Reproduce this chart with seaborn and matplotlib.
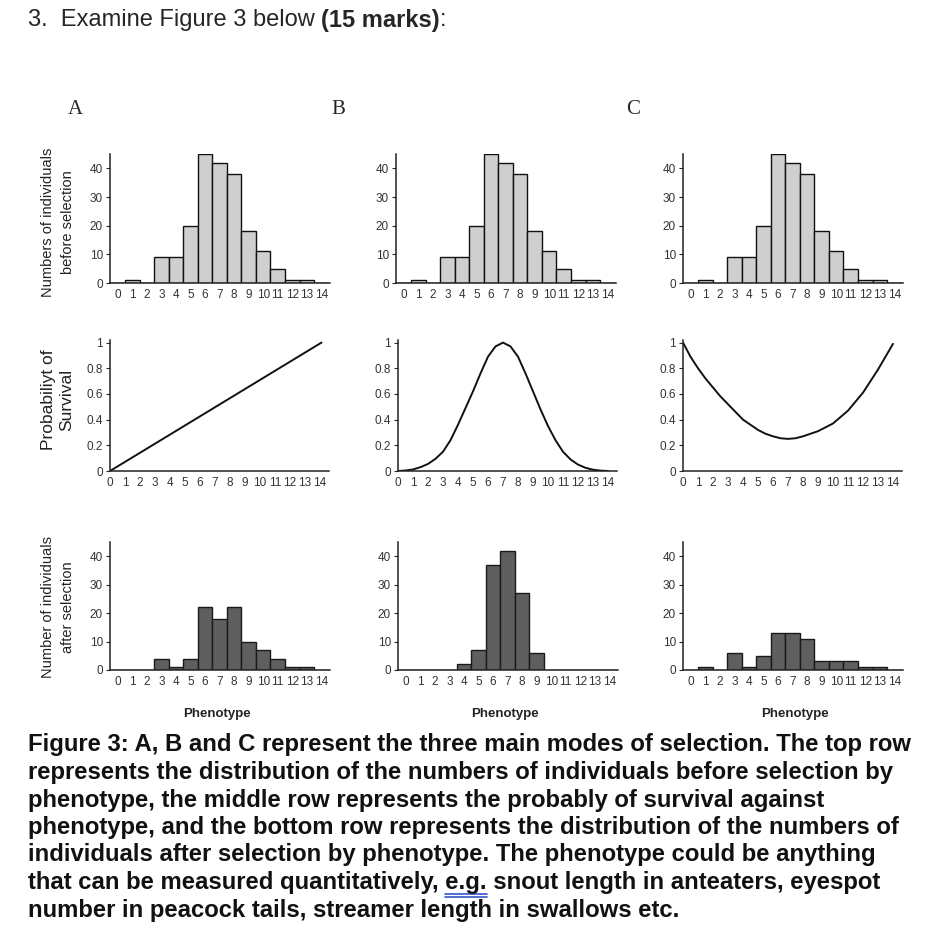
import numpy as np
import pandas as pd
import matplotlib
matplotlib.use("Agg")
import matplotlib.pyplot as plt
import seaborn as sns

# phenotype classes and counts
phenotype = list(range(15))
before = [0, 1, 0, 9, 9, 20, 45, 42, 38, 18, 11, 5, 1, 1, 0]
after_a = [0, 0, 0, 4, 1, 4, 22, 18, 22, 10, 7, 4, 1, 1, 0]
after_b = [0, 0, 0, 0, 2, 7, 37, 42, 27, 6, 0, 0, 0, 0, 0]
after_c = [0, 1, 0, 6, 1, 5, 13, 13, 11, 3, 3, 3, 1, 1, 0]

# survival curves, read at half-unit steps
curve_x = [0, 0.5, 1, 1.5, 2, 2.5, 3, 3.5, 4, 4.5, 5, 5.5, 6, 6.5, 7,
           7.5, 8, 8.5, 9, 9.5, 10, 10.5, 11, 11.5, 12, 12.5, 13, 13.5, 14]
surv_a_x = [0, 14.1]
surv_a = [0, 1.0]
surv_b = [0.0, 0.004, 0.012, 0.03, 0.055, 0.095, 0.15, 0.24, 0.36, 0.49, 0.62,
          0.76, 0.89, 0.97, 1.00, 0.97, 0.89, 0.76, 0.62, 0.48, 0.35, 0.24,
          0.15, 0.09, 0.05, 0.025, 0.01, 0.003, 0.0]
surv_c = [1.0, 0.89, 0.80, 0.72, 0.65, 0.58, 0.52, 0.46, 0.40, 0.36, 0.32,
          0.29, 0.27, 0.255, 0.25, 0.255, 0.27, 0.29, 0.31, 0.34, 0.37, 0.42,
          0.47, 0.54, 0.61, 0.70, 0.79, 0.89, 0.99]

col_letters = ["A", "B", "C"]
row_labels = ["Numbers of individuals\nbefore selection",
              "Probabiliyt of\nSurvival",
              "Number of individuals\nafter selection"]
caption = [
    "Figure 3: A, B and C represent the three main modes of selection. The top row",
    "represents the distribution of the numbers of individuals before selection by",
    "phenotype, the middle row represents the probably of survival against",
    "phenotype, and the bottom row represents the distribution of the numbers of",
    "individuals after selection by phenotype. The phenotype could be anything",
    "that can be measured quantitatively, e.g. snout length in anteaters, eyespot",
    "number in peacock tails, streamer length in swallows etc.",
]

sns.set_style("white")
plt.rcParams["font.family"] = ["Liberation Sans", "DejaVu Sans"]

W, H = 948, 940
fig = plt.figure(figsize=(W / 100, H / 100), dpi=100)


def px_axes(left, bottom, width, height):
    return fig.add_axes([left / W, (H - bottom) / H, width / W, height / H])


def style(ax):
    sns.despine(ax=ax)
    for s in ["left", "bottom"]:
        ax.spines[s].set_linewidth(1.1)
        ax.spines[s].set_color("#222222")
    ax.tick_params(axis="y", length=3, width=0.8, direction="out",
                   labelsize=8.5, labelcolor="#333333", pad=2, left=True)
    ax.tick_params(axis="x", length=0, labelsize=8.5, labelcolor="#333333", pad=4)
    ax.set_xlabel("")
    ax.set_ylabel("")


def hist(ax, counts, color, edge):
    df = pd.DataFrame({"phenotype": phenotype, "n": counts})
    sns.barplot(data=df, x="phenotype", y="n", native_scale=True, width=1,
                color=color, saturation=1, edgecolor=edge, linewidth=1.0,
                errorbar=None, ax=ax)
    ax.set_xlim(-0.55, 14.6)
    ax.set_ylim(0, 45)
    ax.set_xticks(phenotype)
    ax.set_yticks([0, 10, 20, 30, 40])
    style(ax)


def curve(ax, xs, ys):
    sns.lineplot(x=xs, y=ys, color="#111111", linewidth=1.4, ax=ax)
    ax.set_xlim(0, 14.6)
    ax.set_ylim(0, 1.02)
    ax.set_xticks(phenotype)
    ax.set_yticks([0, 0.2, 0.4, 0.6, 0.8, 1])
    ax.set_yticklabels(["0", "0.2", "0.4", "0.6", "0.8", "1"])
    style(ax)


top_left = [110, 396, 683]
mid_left = [110, 398, 683]
bot_left = [110, 398, 683]

for i, counts in enumerate([before, before, before]):
    ax = px_axes(top_left[i], 283, 220, 129)
    hist(ax, counts, "#cfcfcf", "#111111")

for i, ys in enumerate([surv_a, surv_b, surv_c]):
    ax = px_axes(mid_left[i], 471, 219, 131)
    xs = surv_a_x if i == 0 else curve_x
    curve(ax, xs, ys)

for i, counts in enumerate([after_a, after_b, after_c]):
    ax = px_axes(bot_left[i], 670, 220, 128)
    hist(ax, counts, "#5f5f5f", "#1a1a1a")

# column letters
for x, letter in zip([75, 338, 633], col_letters):
    fig.text(x / W, 1 - 110 / H, letter, family="Liberation Serif",
             fontsize=15, ha="center", va="center")

# row labels
for y, lab, fs in zip([222, 400, 607], row_labels, [10.5, 12.5, 10.5]):
    fig.text(58 / W, 1 - y / H, lab, rotation=90, ha="center", va="center",
             multialignment="center", fontsize=fs, color="#222222",
             linespacing=1.5 * 10.5 / fs)

# phenotype labels
for x in [217, 505, 795]:
    fig.text(x / W, 1 - 714 / H, "Phenotype", fontsize=9.5, fontweight="bold",
             ha="center", va="center", color="#222222")

# header line with mixed weight
renderer = fig.canvas.get_renderer()
x0 = 28 / W
y0 = 1 - 20 / H
t1 = fig.text(x0, y0, "3.  Examine Figure 3 below ", fontsize=17,
              ha="left", va="center")
bb = t1.get_window_extent(renderer)
t2 = fig.text(bb.x1 / W, y0, "(15 marks)", fontsize=17, fontweight="bold",
              ha="left", va="center")
bb = t2.get_window_extent(renderer)
fig.text(bb.x1 / W, y0, ":", fontsize=17, ha="left", va="center")

# caption
cap_fs = 17.2
for k, line in enumerate(caption):
    yk = 1 - (745 + 27.5 * k) / H
    fig.text(28 / W, yk, line, fontsize=cap_fs,
             fontweight="bold", ha="left", va="center", color="#111111")
    if "e.g." in line:
        pre = line.split("e.g.")[0]
        tp = fig.text(28 / W, yk, pre, fontsize=cap_fs, fontweight="bold",
                      ha="left", va="center", alpha=0)
        te = fig.text(28 / W, yk, pre + "e.g.", fontsize=cap_fs,
                      fontweight="bold", ha="left", va="center", alpha=0)
        xa = tp.get_window_extent(renderer).x1 / W
        xb = te.get_window_extent(renderer).x1 / W
        for dy in [11, 14]:
            fig.add_artist(plt.Line2D([xa, xb], [yk - dy / H, yk - dy / H],
                                      color="#3355cc", lw=1.2))

fig.savefig("out.png", dpi=100)
